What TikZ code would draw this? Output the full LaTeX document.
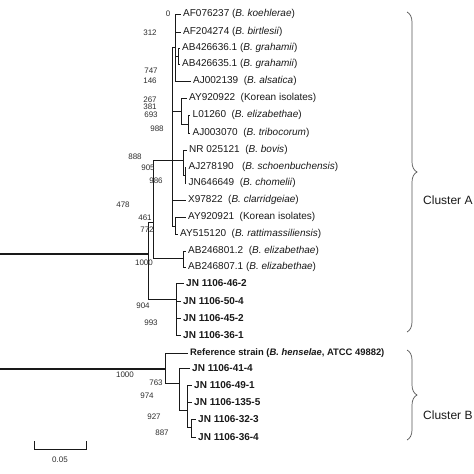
\documentclass[tikz,border=0pt]{standalone}
\usepackage{fontspec}
\setmainfont{Liberation Sans}
\usepackage{tikz}
\usetikzlibrary{decorations.pathreplacing}
\definecolor{treeink}{RGB}{25,25,25}
\definecolor{bootgray}{RGB}{45,45,45}
\definecolor{bracegray}{RGB}{85,85,85}
\tikzset{
  branch/.style={draw=treeink, line width=0.8pt},
  rootbranch/.style={draw=treeink, line width=1.1pt},
  leaf/.style={anchor=west, inner xsep=2.5pt, inner ysep=0pt,
    font=\fontsize{10}{11}\selectfont, text=treeink},
  isolate/.style={leaf, font=\fontsize{10}{11}\selectfont\bfseries},
  boot/.style={inner sep=0pt, font=\fontsize{8}{9}\selectfont, text=bootgray},
  cluster/.style={anchor=west, inner sep=0pt,
    font=\fontsize{12}{14}\selectfont, text=treeink},
  clbrace/.style={draw=bracegray, line width=0.7pt, decorate,
    decoration={brace, amplitude=10pt}},
  scalebar/.style={draw=treeink, line width=0.8pt}
}

\begin{document}
\begin{tikzpicture}[x=1pt, y=-1pt]
  \useasboundingbox (0,0) rectangle (474,474);

  % ── Cluster A: inner nodes ────────────────────────────────────────────────
  \coordinate (rootA) at (0,254);
  \coordinate (nA)    at (148,254);
  \coordinate (nA1)   at (153,222);
  \coordinate (n2)    at (172,160);
  \coordinate (n3)    at (175,47);
  \coordinate (nGR)   at (178,56);
  \coordinate (nAY1)  at (181,111);
  \coordinate (nEL)   at (188,124);
  \coordinate (nNR)   at (183,160);
  \coordinate (nSC)   at (185,175);
  \coordinate (nAY2)  at (175,226);
  \coordinate (nAB)   at (183,258);
  \coordinate (nJN)   at (176,299);

  % ── Cluster A: leaves ─────────────────────────────────────────────────────
  \node[leaf] (af076)  at (180.5,14)  {AF076237 (\textit{B. koehlerae})};
  \node[leaf] (af204)  at (180.5,32)  {AF204274 (\textit{B. birtlesii})};
  \node[leaf] (ab4266) at (179.5,48)  {AB426636.1 (\textit{B. grahamii})};
  \node[leaf] (ab4265) at (179.5,64)  {AB426635.1 (\textit{B. grahamii})};
  \node[leaf] (aj002)  at (190.5,81)  {AJ002139 \ (\textit{B. alsatica})};
  \node[leaf] (ay922)  at (186.5,98)  {AY920922 \ (Korean isolates)};
  \node[leaf] (l0126)  at (190,115)   {L01260 \ (\textit{B. elizabethae})};
  \node[leaf] (aj003)  at (190,133)   {AJ003070 \ (\textit{B. tribocorum})};
  \node[leaf] (nr025)  at (186.5,150) {NR 025121 \ (\textit{B. bovis})};
  \node[leaf] (aj278)  at (186,167)   {AJ278190 \ \ (\textit{B. schoenbuchensis})};
  \node[leaf] (jn646)  at (186,183)   {JN646649 \ (\textit{B. chomelii})};
  \node[leaf] (x978)   at (185.5,200) {X97822 \ (\textit{B. clarridgeiae})};
  \node[leaf] (ay921)  at (185.5,217) {AY920921 \ (Korean isolates)};
  \node[leaf] (ay515)  at (177.5,234) {AY515120 \ (\textit{B. rattimassiliensis})};
  \node[leaf] (ab2801) at (185.5,251) {AB246801.2 \ (\textit{B. elizabethae})};
  \node[leaf] (ab2807) at (185.5,267) {AB246807.1 (\textit{B. elizabethae})};
  \node[isolate] (jn462) at (183.5,283) {JN 1106-46-2};
  \node[isolate] (jn504) at (180.5,301) {JN 1106-50-4};
  \node[isolate] (jn452) at (180.5,318) {JN 1106-45-2};
  \node[isolate] (jn361) at (180.5,335) {JN 1106-36-1};

  % ── Cluster A: branches ───────────────────────────────────────────────────
  \draw[rootbranch] (rootA) -- (nA);
  \draw[branch] (nA) |- (nA1) (nA) |- (nJN);
  \draw[branch] (nA1) |- (n2) (nA1) |- (nAB);
  \draw[branch] (n2) |- (n3) (n2) |- (nAY1) (n2) -- (nNR)
    (n2) |- (x978.west) (n2) |- (nAY2);
  \draw[branch] (n3) |- (af076.west) (n3) |- (af204.west)
    (n3) |- (nGR) (n3) |- (aj002.west);
  \draw[branch] (nGR) |- (ab4266.west) (nGR) |- (ab4265.west);
  \draw[branch] (nAY1) |- (ay922.west) (nAY1) |- (nEL);
  \draw[branch] (nEL) |- (l0126.west) (nEL) |- (aj003.west);
  \draw[branch] (nNR) |- (nr025.west) (nNR) |- (nSC);
  \draw[branch] (nSC) |- (aj278.west) (nSC) |- (jn646.west);
  \draw[branch] (nAY2) |- (ay921.west) (nAY2) |- (ay515.west);
  \draw[branch] (nAB) |- (ab2801.west) (nAB) |- (ab2807.west);
  \draw[branch] (nJN) |- (jn462.west) (nJN) |- (jn504.west)
    (nJN) |- (jn452.west) (nJN) |- (jn361.west);

  % ── Cluster B ─────────────────────────────────────────────────────────────
  \coordinate (rootB) at (0,369);
  \coordinate (nB)    at (165,369);
  \coordinate (nB2)   at (179,383);
  \coordinate (nB3)   at (187,410);
  \coordinate (nB5)   at (191,427);
  \node[isolate, font=\fontsize{9.4}{11}\selectfont\bfseries] (ref) at (187.5,353)
    {Reference strain (\textit{B. henselae}, ATCC 49882)};
  \node[isolate] (jn414)  at (189.5,368) {JN 1106-41-4};
  \node[isolate] (jn491)  at (191.5,385) {JN 1106-49-1};
  \node[isolate] (jn1355) at (191.5,402) {JN 1106-135-5};
  \node[isolate] (jn323)  at (195.5,419) {JN 1106-32-3};
  \node[isolate] (jn364)  at (195.5,437) {JN 1106-36-4};
  \draw[rootbranch] (rootB) -- (nB);
  \draw[branch] (nB) |- (ref.west) (nB) |- (nB2);
  \draw[branch] (nB2) |- (jn414.west) (nB2) |- (nB3);
  \draw[branch] (nB3) |- (jn491.west) (nB3) |- (jn1355.west) (nB3) |- (nB5);
  \draw[branch] (nB5) |- (jn323.west) (nB5) |- (jn364.west);

  % ── Bootstrap values ──────────────────────────────────────────────────────
  \foreach \val/\bx/\by [count=\k] in {0/168/14, 312/150/33, 747/151/71,
      146/150/81, 267/150/100, 381/150/107, 693/151/115, 988/157/129,
      888/135/157, 905/148/168, 986/156/181, 478/123/205, 461/145/218,
      772/147/230, 1000/144/263, 904/143/306, 993/151/323, 1000/125/375,
      763/156/383, 974/147/396, 927/154/417, 887/162/433}
    \node[boot] (bs\k) at (\bx,\by) {\val};

  % ── Cluster braces and labels ─────────────────────────────────────────────
  \coordinate (braceAtop) at (407,12);
  \coordinate (braceAbot) at (407,332);
  \coordinate (braceBtop) at (407,350);
  \coordinate (braceBbot) at (407,440);
  \draw[clbrace] (braceAtop) -- (braceAbot);
  \draw[clbrace] (braceBtop) -- (braceBbot);
  \node[cluster] (clA) at (423,200) {Cluster A};
  \node[cluster] (clB) at (423,415) {Cluster B};

  % ── Scale bar ─────────────────────────────────────────────────────────────
  \coordinate (sbL) at (34,449);
  \coordinate (sbR) at (86,449);
  \draw[scalebar] (34,441) -- (sbL) -- (sbR) -- (86,441);
  \node[boot] (sbtext) at (60,460) {0.05};
\end{tikzpicture}
\end{document}
